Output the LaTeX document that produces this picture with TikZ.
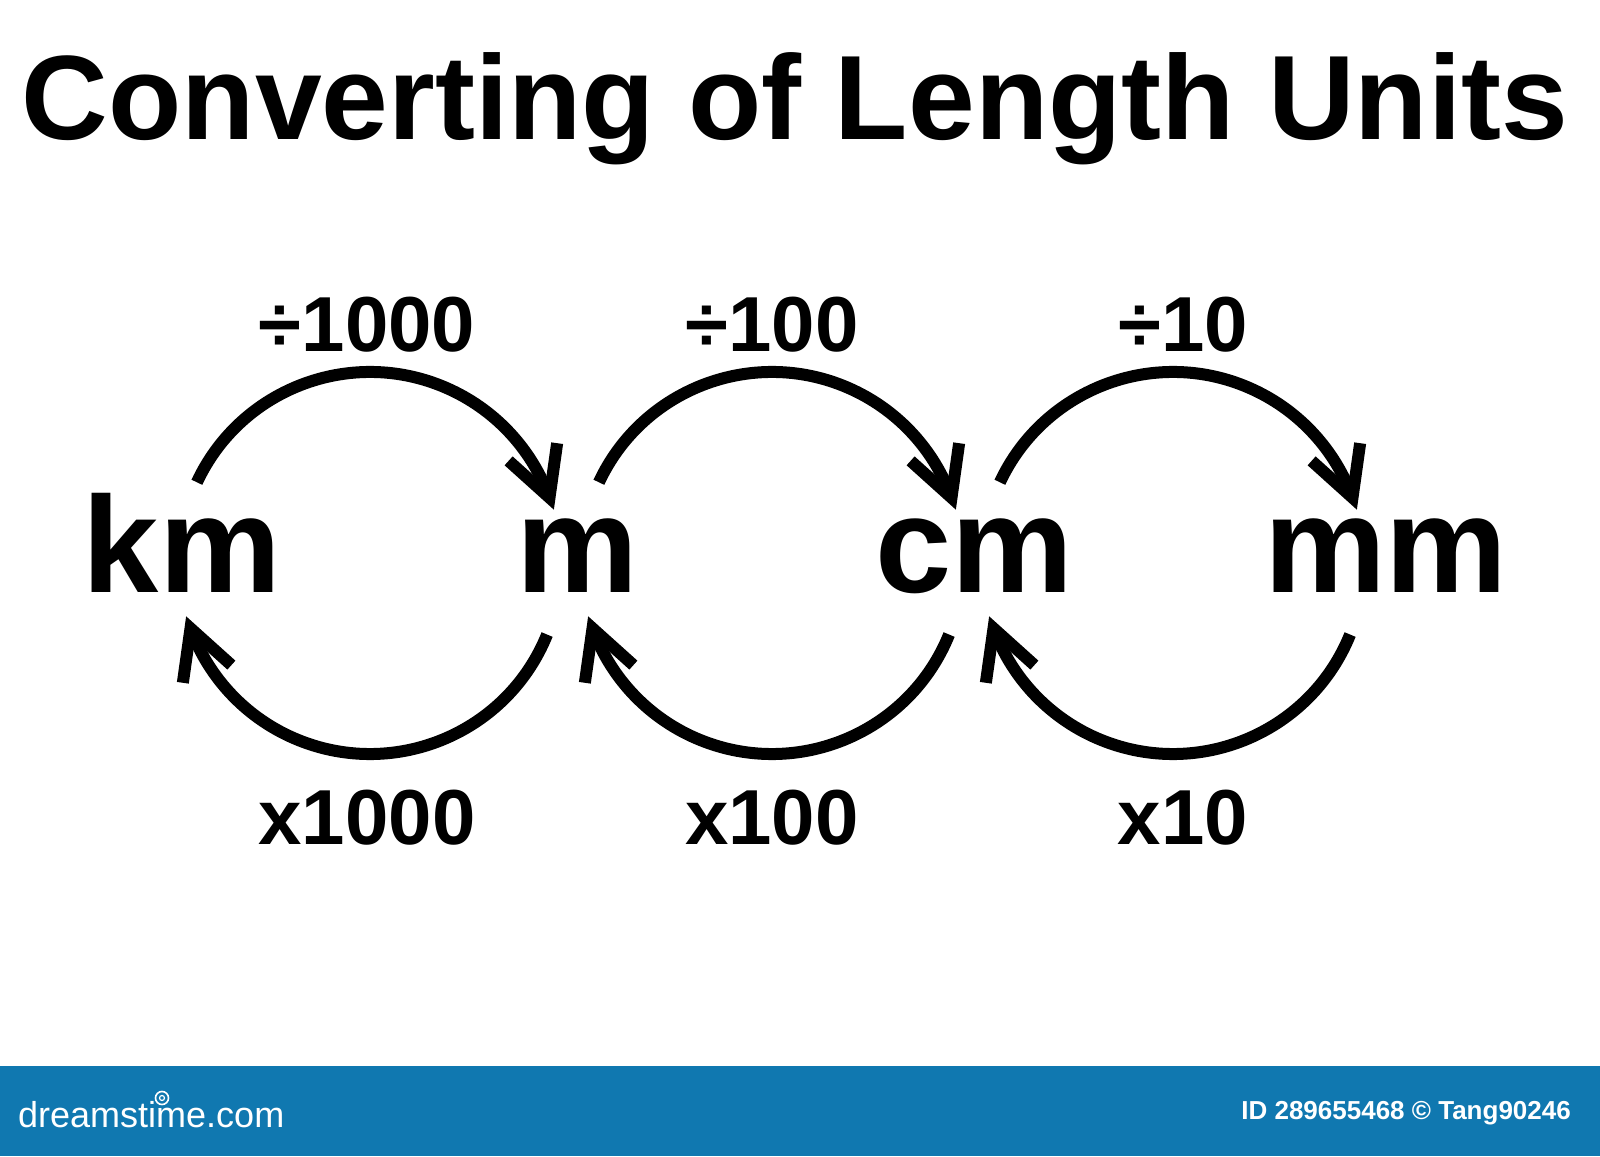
\documentclass[tikz,border=0pt]{standalone}
\usepackage{fontspec}
\setmainfont{Liberation Sans}
\definecolor{barblue}{RGB}{16,120,176}
\begin{document}
\begin{tikzpicture}[x=1pt,y=1pt,
  titlefont/.style={font=\bfseries\fontsize{120}{120}\selectfont, anchor=base, inner sep=0pt},
  unit/.style={font=\bfseries\fontsize{137}{137}\selectfont, anchor=base, inner sep=0pt},
  lbl/.style={font=\bfseries\fontsize{78}{78}\selectfont, anchor=base, inner sep=0pt},
  arcline/.style={line width=12pt, line cap=butt},
  barb/.style={line width=12pt, line join=miter, line cap=butt}]
\useasboundingbox (0,0) rectangle (1600,1156);
% bottom bar
\node[fill=barblue, minimum width=1600pt, minimum height=90pt, inner sep=0pt, outer sep=0pt, anchor=south west] (bar) at (0,0) {};
\node[anchor=base west, inner sep=0pt, text=white, font=\fontsize{36}{36}\selectfont] (logo) at (18,28) {dreamstime.com};
\draw[white, line width=1.6pt] (162,58) circle (6.5);
\draw[white, line width=1.2pt] (162,58) circle (2.5);
\node[anchor=base east, inner sep=0pt, text=white, font=\bfseries\fontsize{26}{26}\selectfont] (id) at (1571,36) {ID 289655468 © Tang90246};
% title
\node[titlefont] (title) at (795,1016) {Converting of Length Units};
% units
\node[unit] (km) at (182,563) {km};
\node[unit] (m)  at (577,563) {m};
\node[unit] (cm) at (974,563) {cm};
\node[unit] (mm) at (1386,563) {mm};
% labels
\node[lbl] (d1) at (367,804) {÷1000};
\node[lbl] (d2) at (772,804) {÷100};
\node[lbl] (d3) at (1183,804) {÷10};
\node[lbl] (x1) at (367,311) {x1000};
\node[lbl] (x2) at (772,311) {x100};
\node[lbl] (x3) at (1183,311) {x10};
% arcs
\foreach \cx/\n in {370/1,772/2,1173/3} {
  \coordinate (c\n) at (\cx,593);
  \draw[arcline] ([shift={(155:191)}]c\n) arc[start angle=155, end angle=20, radius=191];
  \coordinate (tt\n) at ([shift={(20:191)}]c\n);
  \draw[barb] ([shift={(82:55)}]tt\n) -- (tt\n) -- ([shift={(138:55)}]tt\n);
  \draw[arcline] ([shift={(-22:191)}]c\n) arc[start angle=-22, end angle=-160, radius=191];
  \coordinate (bt\n) at ([shift={(-160:191)}]c\n);
  \draw[barb] ([shift={(-42:55)}]bt\n) -- (bt\n) -- ([shift={(-98:55)}]bt\n);
}
\end{tikzpicture}
\end{document}
